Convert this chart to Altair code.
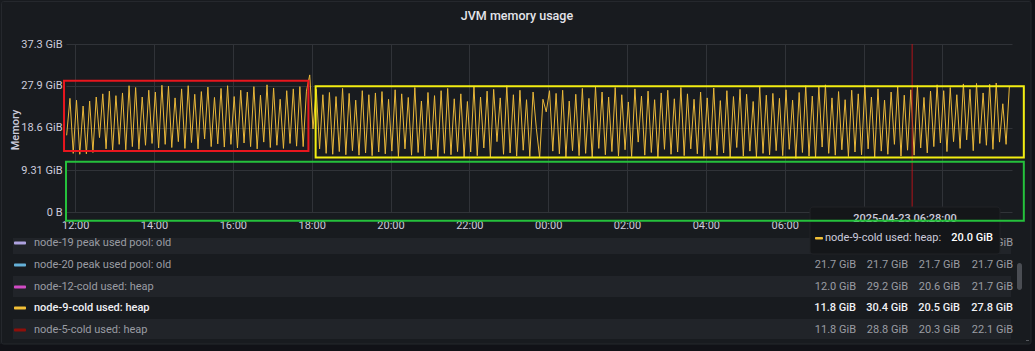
import altair as alt
import pandas as pd

# ---------------- data ----------------
chart_title = "JVM memory usage"
y_axis_title = "Memory"
sample_start = "2025-04-22 11:47"
sample_step = "5min"

# node-9-cold used: heap (GiB), one row per 2 hours, 5-minute samples
heap_rows = [
    [17.0, 25.2, 13.0, 24.8, 12.8, 23.5, 12.9, 24.6, 13.2, 25.5, 16.5, 26.2, 14.0, 26.8, 13.5, 25.8, 15.0, 26.4, 13.8, 28.0, 14.5, 27.6, 13.9, 25.5],
    [14.8, 27.0, 15.2, 26.6, 14.2, 28.1, 15.0, 27.9, 14.3, 25.3, 15.6, 27.3, 14.1, 28.0, 15.4, 26.1, 14.0, 26.7, 16.2, 27.7, 14.5, 25.4, 15.1, 27.4],
    [14.4, 28.0, 15.0, 25.6, 14.2, 27.0, 15.3, 26.6, 14.5, 27.8, 14.0, 25.9, 15.5, 28.2, 14.3, 27.5, 14.8, 25.0, 14.1, 26.9, 15.2, 27.3, 14.6, 27.8],
    [14.5, 26.8, 30.4, 18.4, 27.2, 14.0, 26.0, 13.0, 26.5, 12.8, 25.6, 13.4, 27.4, 12.7, 26.3, 13.6, 24.8, 12.6, 26.9, 13.1, 26.0, 12.5, 26.4, 13.3],
    [26.7, 12.9, 25.0, 13.5, 27.1, 12.3, 26.2, 14.0, 25.4, 12.6, 27.6, 13.2, 24.6, 12.4, 26.5, 13.8, 25.8, 12.1, 26.9, 13.0, 27.4, 12.7, 25.1, 13.4],
    [26.2, 12.2, 24.5, 13.3, 27.9, 12.5, 25.5, 14.2, 26.8, 12.0, 27.2, 15.6, 25.3, 12.8, 28.0, 13.1, 26.0, 12.4, 27.0, 13.7, 24.9, 12.3, 26.6, 18.5],
    [12.0, 25.0, 22.2, 26.9, 13.5, 26.3, 12.9, 27.0, 12.2, 24.6, 13.6, 26.1, 12.5, 27.4, 13.0, 25.2, 12.0, 27.8, 14.1, 26.6, 12.7, 25.5, 13.4, 27.6],
    [12.4, 26.0, 13.8, 24.4, 12.3, 27.3, 15.5, 25.7, 12.6, 26.8, 13.2, 24.9, 12.1, 26.4, 13.9, 27.0, 12.8, 25.1, 13.3, 27.6, 12.5, 26.2, 14.0, 25.0],
    [12.9, 26.6, 12.3, 25.3, 13.7, 27.5, 12.6, 24.7, 13.1, 26.9, 12.0, 25.6, 14.3, 27.2, 12.4, 26.1, 13.5, 24.5, 12.2, 27.7, 13.0, 25.9, 12.7, 26.3],
    [13.6, 25.2, 12.5, 27.1, 13.9, 24.8, 11.9, 26.5, 13.2, 28.0, 12.4, 25.7, 12.1, 27.9, 14.4, 28.2, 13.0, 25.3, 12.6, 26.7, 13.8, 24.9, 12.3, 27.0],
    [13.3, 26.2, 12.7, 28.1, 14.0, 25.5, 12.2, 27.3, 13.5, 24.8, 12.8, 26.6, 15.0, 27.8, 12.4, 25.9, 13.7, 27.1, 12.6, 28.0, 14.2, 25.4, 13.1, 26.8],
    [14.5, 28.2, 15.3, 26.9, 13.4, 27.6, 15.6, 26.0, 14.1, 28.4, 16.0, 27.2, 13.6, 28.5, 15.2, 26.4, 14.8, 28.3, 13.9, 28.6, 15.5, 24.0, 15.0, 27.8],
]
heap_gib = [v for row in heap_rows for v in row]

y_tick_values = [0, 9.3132, 18.6265, 27.9397, 37.2529]
y_tick_labels = ["0 B", "9.31 GiB", "18.6 GiB", "27.9 GiB", "37.3 GiB"]
x_tick_dates = [22, 22, 22, 22, 22, 22, 23, 23, 23, 23, 23, 23]
x_tick_hours = [12, 14, 16, 18, 20, 22, 0, 2, 4, 6, 8, 10]
x_tick_shown = [True, True, True, True, True, True, True, True, True, True, False, False]  # 08:00/10:00 covered by tooltip
x_domain = [(22, 11, 46), (23, 11, 46)]

legend_names = ["node-19 peak used pool: old", "node-20 peak used pool: old",
                "node-12-cold used: heap", "node-9-cold used: heap", "node-5-cold used: heap"]
legend_colors = ["#AEA2E0", "#64B0D8", "#D04BC4", "#F2C037", "#8F0F0A"]
# the first row's first three values are hidden under the tooltip in the reference
legend_min = ["", "21.7 GiB", "12.0 GiB", "11.8 GiB", "11.8 GiB"]
legend_max = ["", "21.7 GiB", "29.2 GiB", "30.4 GiB", "28.8 GiB"]
legend_mean = ["", "21.7 GiB", "20.6 GiB", "20.5 GiB", "20.3 GiB"]
legend_last = ["21.7 GiB", "21.7 GiB", "21.7 GiB", "27.8 GiB", "22.1 GiB"]
legend_highlight = 3

tooltip_time = "2025-04-23 06:28:00"
tooltip_series = "node-9-cold used: heap:"
tooltip_value = "20.0 GiB"

cursor_time = "2025-04-23T09:14:00Z"

box_starts = ["2025-04-22T11:43:00Z", "2025-04-22T18:06:00Z"]
box_ends = ["2025-04-22T17:55:00Z", "2025-04-23T12:04:00Z"]
box_lows = [13.5, 12.1]
box_highs = [29.1, 27.9]
box_colors = ["#E8161E", "#F2EE12"]
green_box = dict(start="2025-04-22T11:46:00Z", end="2025-04-23T12:04:00Z", lo=-1.93, hi=11.15)
green_color = "#25C13C"

# ---------------- layout ----------------
W, H = 946, 168
L, T = 66, 44
FONT = "Roboto"
TXT = "#ccccdc"

def X(px):
    return alt.value(px - L)

def Y(py):
    return alt.value(py - T)

times = pd.date_range(sample_start, periods=len(heap_gib), freq=sample_step)
df = pd.DataFrame({"time": [t.strftime("%Y-%m-%dT%H:%M:%SZ") for t in times], "gib": heap_gib})

def dt(d, h, m=0):
    return alt.DateTime(year=2025, month=4, date=d, hours=h, minutes=m, utc=True)

xscale = alt.Scale(type="utc", domain=[dt(*x_domain[0]), dt(*x_domain[1])])
yscale = alt.Scale(domain=[y_tick_values[0], y_tick_values[-1]], nice=False, zero=False)

ylabel_expr = "'" + y_tick_labels[-1] + "'"
for v, lab in reversed(list(zip(y_tick_values[:-1], y_tick_labels[:-1]))):
    ylabel_expr = f"datum.value < {v + 0.5} ? '{lab}' : " + ylabel_expr

hidden = [(d, h) for d, h, s in zip(x_tick_dates, x_tick_hours, x_tick_shown) if not s]
xlabel_expr = "utcFormat(datum.value, '%H:%M')"
for d, h in hidden:
    xlabel_expr = (f"(utcdate(datum.value) == {d} && utchours(datum.value) == {h}) ? '' : " + xlabel_expr)

line = alt.Chart(df).mark_line(color="#EAB839", strokeWidth=1, interpolate="linear").encode(
    x=alt.X("time:T", scale=xscale, axis=alt.Axis(
        values=[dt(d, h) for d, h in zip(x_tick_dates, x_tick_hours)],
        labelExpr=xlabel_expr, title=None, grid=True,
        gridColor="#303338", domain=False, ticks=False, labelPadding=7,
        labelColor=TXT, labelFont=FONT, labelFontSize=11)),
    y=alt.Y("gib:Q", scale=yscale, axis=alt.Axis(
        values=y_tick_values, labelExpr=ylabel_expr, title=None, grid=True,
        gridColor="#303338", domain=False, ticks=False, labelPadding=4,
        labelColor=TXT, labelFont=FONT, labelFontSize=11)),
)

one = pd.DataFrame({"k": [0]})

def rect(x1, x2, y1, y2, **kw):
    return alt.Chart(one).mark_rect(**kw).encode(x=X(x1), x2=X(x2), y=Y(y1), y2=Y(y2))

def text(s, x, y, **kw):
    return alt.Chart(pd.DataFrame({"s": [s]})).mark_text(font=FONT, **kw).encode(
        x=X(x), y=Y(y), text="s:N")

layers = []
# outer page border strips
layers.append(rect(0, 1035, 344, 351, fill="#111217"))
layers.append(rect(1031, 1035, 0, 351, fill="#111217"))
layers.append(rect(1.5, 1031, 1.5, 344, fillOpacity=0, stroke="#25282d", strokeWidth=1, cornerRadius=2))

# legend row bands
band_tops = [238, 260, 276, 298, 319]
band_bottoms = [254, 276, 297, 319, 339]
for i in (0, 2, 4):
    layers.append(rect(13, 1011, band_tops[i], band_bottoms[i], fill="#212429"))

layers.append(line)

# cursor rule
layers.append(alt.Chart(pd.DataFrame({"t": [cursor_time]})).mark_rule(color="#B0141A", strokeWidth=1).encode(
    x=alt.X("t:T", scale=xscale), y=alt.value(0), y2=alt.value(H)))

# annotation boxes (red, yellow)
boxes = pd.DataFrame({"start": box_starts, "end": box_ends, "lo": box_lows, "hi": box_highs, "c": box_colors})
layers.append(alt.Chart(boxes).mark_rect(fillOpacity=0, strokeWidth=2).encode(
    x=alt.X("start:T", scale=xscale), x2="end:T",
    y=alt.Y("lo:Q", scale=yscale), y2="hi:Q",
    stroke=alt.Stroke("c:N", scale=None)))

# legend table
row_centers = [243, 265, 287, 308, 330]
value_right = [856, 908, 960, 1013]
for i, name in enumerate(legend_names):
    c = row_centers[i]
    hl = i == legend_highlight
    col = "#f0f0f4" if hl else "#9a9ca3"
    wt = 500 if hl else 400
    layers.append(rect(14, 26, c - 1.5, c + 1.5, fill=legend_colors[i], cornerRadius=1))
    layers.append(text(name, 34, c, align="left", baseline="middle", fontSize=11, color=col, fontWeight=wt))
    for vx, vals in zip(value_right, [legend_min, legend_max, legend_mean, legend_last]):
        if vals[i]:
            layers.append(text(vals[i], vx, c, align="right", baseline="middle", fontSize=11, color=col, fontWeight=wt))

# scrollbar
layers.append(rect(1017, 1022, 263, 290, fill="#4a4d53", cornerRadius=2.5))
layers.append(rect(1026, 1029, 340, 341, fill="#55585e"))

# tooltip
layers.append(rect(810, 1000, 207, 254, fill="#141619", stroke="#202226", strokeWidth=1, cornerRadius=3))
layers.append(text(tooltip_time, 905, 219, align="center", baseline="middle", fontSize=11, color=TXT, fontWeight=500))
layers.append(rect(815, 823, 237, 239.5, fill="#F2C037", cornerRadius=1))
layers.append(text(tooltip_series, 825, 238, align="left", baseline="middle", fontSize=11, color=TXT))
layers.append(text(tooltip_value, 993, 238, align="right", baseline="middle", fontSize=11, color="#ffffff", fontWeight=500))

# green annotation box (drawn on top)
layers.append(alt.Chart(pd.DataFrame([green_box])).mark_rect(fillOpacity=0, strokeWidth=2, stroke=green_color).encode(
    x=alt.X("start:T", scale=xscale), x2="end:T",
    y=alt.Y("lo:Q", scale=yscale), y2="hi:Q"))

# titles
layers.append(text(chart_title, 517, 16, align="center", baseline="middle", fontSize=12.5, color="#e4e4ea", fontWeight=500))
layers.append(text(y_axis_title, 16, 130, align="center", baseline="middle", fontSize=11, color=TXT, fontWeight=500, angle=270))

chart = alt.layer(*layers).properties(
    width=W, height=H,
    padding={"left": L, "top": T, "right": 1035 - L - W, "bottom": 351 - T - H},
    autosize=alt.AutoSizeParams(type="none"),
    background="#181b1f",
).configure_view(strokeWidth=0)

chart.save("out.html", embed_options={"renderer": "svg", "actions": False})
